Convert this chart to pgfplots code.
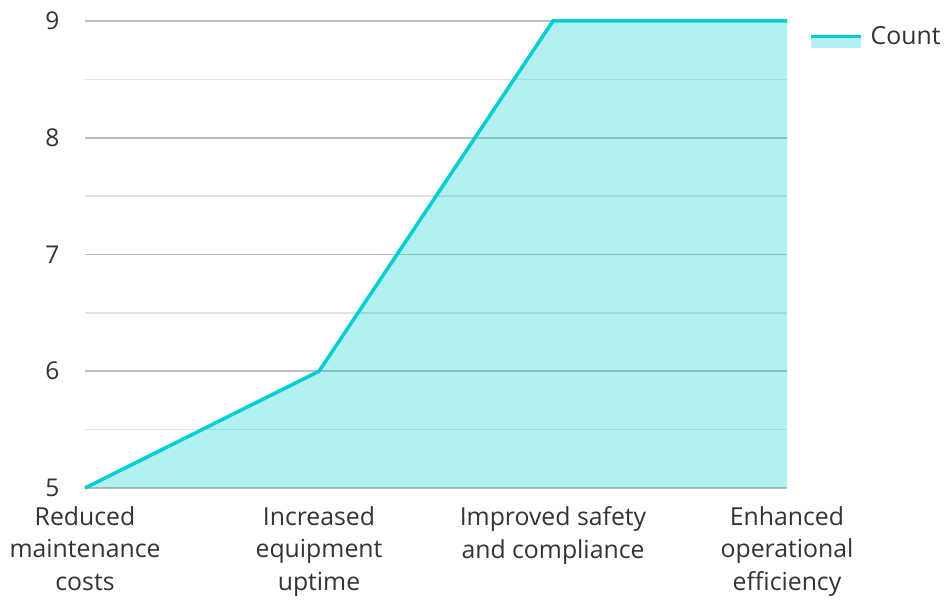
\documentclass[border=0pt]{standalone}
\usepackage{pgfplots}
\pgfplotsset{compat=1.18}
\usepackage{fontspec}
\setmainfont{Open Sans}
\definecolor{turq}{HTML}{00CED1}
\definecolor{majgrid}{HTML}{BEBEBE}
\definecolor{mingrid}{HTML}{E3E3E3}
\definecolor{txt}{HTML}{333333}
\begin{document}
\begin{tikzpicture}
\begin{axis}[
  scale only axis,
  width=702pt, height=467pt,
  xmin=0, xmax=3, ymin=5, ymax=9,
  xtick={0,1,2,3},
  xticklabels={{Reduced\\maintenance\\costs},{Increased\\equipment\\uptime},{Improved safety\\and compliance},{Enhanced\\operational\\efficiency}},
  xticklabel style={align=center, font=\fontsize{24.8}{32.5}\selectfont, text=txt, yshift=-15pt},
  ytick={5,6,7,8,9},
  minor ytick={5.5,6.5,7.5,8.5},
  yticklabel style={font=\fontsize{24.5}{28}\selectfont, text=txt, xshift=-22pt},
  /pgf/number format/assume math mode=true,
  ymajorgrids, yminorgrids,
  major grid style={draw=majgrid, line width=1.6pt},
  minor grid style={draw=mingrid, line width=1.6pt},
  axis line style={draw=none},
  tick style={draw=none},
  clip=false,
  legend style={draw=none, fill=none, inner sep=0pt, at={(axis description cs:1.0313,0.967)}, anchor=west, font=\fontsize{24.8}{26}\selectfont, text=txt, /tikz/every even column/.style={column sep=0pt}},
  legend cell align=left,
  legend image code/.code={
    \path[draw=none, fill=turq, fill opacity=0.3] (0pt,-12pt) rectangle (50pt,0pt);
    \path[draw=turq, line width=3.5pt] (0pt,0pt) -- (50pt,0pt);
  },
]
\addplot[draw=none, fill=turq, fill opacity=0.3, forget plot] coordinates {(0,5) (1,6) (2,9) (3,9)} \closedcycle;
\addplot[turq, line width=3.5pt] coordinates {(0,5) (1,6) (2,9) (3,9)};
\addlegendentry{\hspace{6pt}Count}
\end{axis}
\path (current axis.south west) ++(-85pt,-107pt) coordinate (bl);
\path (current axis.north east) ++(158pt,21pt) coordinate (tr);
\path[use as bounding box] (bl) rectangle (tr);
\end{tikzpicture}
\end{document}
